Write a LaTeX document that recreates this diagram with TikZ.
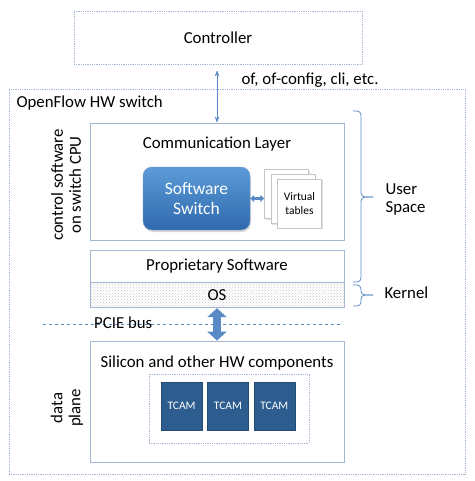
\documentclass[tikz,border=0pt]{standalone}
\usepackage{fontspec}
\setmainfont{Carlito}
\usetikzlibrary{positioning, shapes, arrows.meta, patterns, shadows}

\definecolor{bordo}{HTML}{A3B7D3}
\definecolor{freccia}{HTML}{5A8AC6}
\definecolor{bluchiaro}{HTML}{5C9BD8}
\definecolor{bluscuro}{HTML}{2F69AD}
\definecolor{tcamblu}{HTML}{2D5D8E}

\begin{document}
\begin{tikzpicture}[x=1pt, y=-1pt, font=\fontsize{16.8}{18}\selectfont,
	box/.style={rectangle, draw=bordo, thick, minimum width=254pt, inner sep=0pt},
	dotbox/.style={rectangle, draw=bordo, densely dotted, thick, inner sep=0pt},
	vtab/.style={rectangle, draw=gray!45, fill=white, minimum width=44pt, minimum height=49pt, drop shadow={opacity=0.25, shadow xshift=1pt, shadow yshift=-1pt}},
	tcambox/.style={rectangle, fill=tcamblu, draw=tcamblu!80!black, text=white, minimum width=41pt, minimum height=48pt, font=\fontsize{11.5}{12}\selectfont},
	brace/.style={draw=freccia, thick, rounded corners=4pt}]
	\useasboundingbox (0,0) rectangle (474,481);

	% Controller
	\node[dotbox, minimum width=288pt, minimum height=53pt] (ctrl) at (218,37.5) {Controller};

	% Switch HW
	\node[dotbox, minimum width=456pt, minimum height=385pt] (hwsw) at (237,281.5) {};
	\node[anchor=west] (hwlabel) at (13,103) {OpenFlow HW switch};

	% Software sulla CPU
	\node[box, minimum height=117pt] (comm) at (217,181.5) {};
	\node[below=14pt of comm.north, inner sep=0pt] (commlabel) {Communication Layer};
	\node[rectangle, rounded corners=9pt, minimum width=107pt, minimum height=63pt, top color=bluchiaro, bottom color=bluscuro, draw=bluscuro!70, text=white, align=center, font=\fontsize{17.5}{20}\selectfont, drop shadow={opacity=0.3, shadow xshift=1pt, shadow yshift=-2pt}] (swsw) at (196.5,198.5) {Software\\Switch};
	\node[vtab] (vt3) at (286.5,194) {};
	\node[vtab] (vt2) at (293,199) {};
	\node[vtab, align=center, font=\fontsize{11.5}{14}\selectfont] (vt1) at (299.5,203.5) {Virtual\\tables};
	\node[box, minimum height=32pt] (prop) at (217,266) {Proprietary Software};
	\node[box, minimum height=25pt, below=0pt of prop, pattern=crosshatch dots, pattern color=gray!45] (os) {OS};
	\node[rotate=90, align=center] (cpulabel) at (66,185) {control software\\on switch CPU};

	% Parentesi
	\draw[brace] (353,111) -| (361,197) -- (373,197);
	\draw[brace] (353,282) -| (361,197) -- (373,197);
	\node[anchor=west, align=left] (user) at (382,199) {User\\Space};
	\draw[brace] (353,285) -| (361,295) -- (373,295);
	\draw[brace] (353,306) -| (361,295) -- (373,295);
	\node[anchor=west] (kernel) at (381,293) {Kernel};

	% Bus PCIE
	\coordinate (pciel) at (43,324);
	\coordinate (pcier) at (343,324);
	\draw[freccia, thick, dashed] (pciel) -- (pcier);
	\node[anchor=west, inner sep=0pt] (pcie) at (94,323) {PCIE bus};

	% Data plane
	\node[box, minimum height=121pt] (sil) at (217,401.5) {};
	\node[below=15pt of sil.north, inner sep=0pt] (sillabel) {Silicon and other HW components};
	\node[dotbox, minimum width=160pt, minimum height=69pt] (tcams) at (229,408.5) {};
	\node[tcambox] (tcam1) at (181.5,406) {TCAM};
	\node[tcambox, right=5pt of tcam1] (tcam2) {TCAM};
	\node[tcambox, right=5pt of tcam2] (tcam3) {TCAM};
	\node[rotate=90, align=center] (dplabel) at (67,408) {data\\plane};

	% Connessioni
	\draw[freccia, thick, {Stealth[length=6pt]}-{Stealth[length=6pt]}, shorten <=6pt] (comm.north |- ctrl.south) -- (comm.north);
	\node[anchor=west] (proto) at (238,80) {of, of-config, cli, etc.};
	\draw[freccia, line width=2.5pt, {Triangle[width=7pt,length=4pt]}-{Triangle[width=7pt,length=4pt]}] (swsw.east) -- (vt3.west |- swsw.east);
	\draw[freccia, line width=8pt, {Triangle[width=19pt,length=9pt]}-{Triangle[width=19pt,length=9pt]}] (os.south) -- (sil.north);
\end{tikzpicture}
\end{document}
